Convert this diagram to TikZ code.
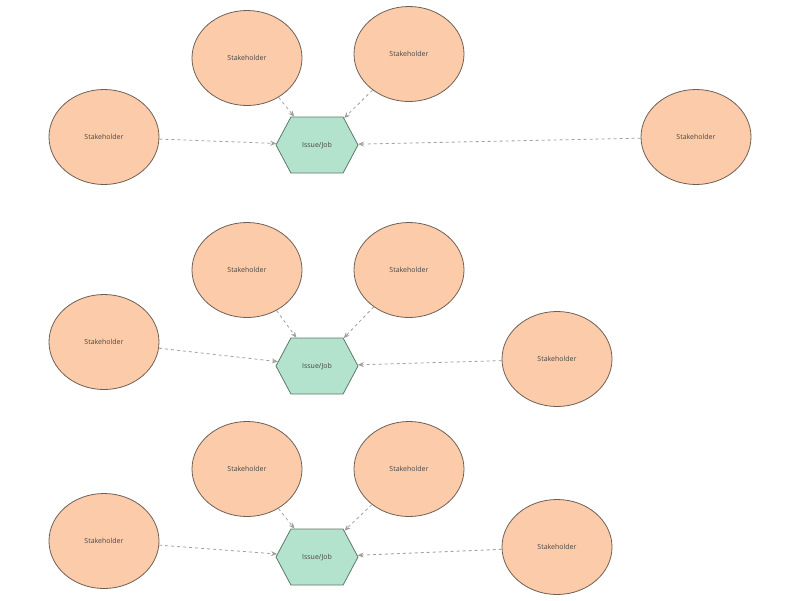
\documentclass[tikz,border=0pt]{standalone}
\usepackage{fontspec}
\setmainfont{Open Sans}
\usetikzlibrary{shapes.geometric,shapes.symbols,arrows.meta}

\definecolor{peach}{RGB}{252,204,170}
\definecolor{peachline}{RGB}{110,95,85}
\definecolor{mint}{RGB}{179,227,204}
\definecolor{mintline}{RGB}{95,120,108}
\definecolor{labelgray}{RGB}{70,70,70}
\definecolor{linkgray}{RGB}{160,160,160}

\begin{document}
\begin{tikzpicture}[x=1pt,y=-1pt,
  stakeholder/.style={draw=peachline, ellipse, fill=peach, line width=0.8pt,
    minimum width=110pt, minimum height=95pt, inner sep=0pt,
    font=\fontsize{7}{8}\selectfont, text=labelgray},
  issue/.style={draw=mintline, signal, signal to=east and west,
    signal pointer angle=124, fill=mint, line width=0.8pt,
    minimum width=82pt, minimum height=56pt, inner sep=0pt,
    font=\fontsize{7}{8}\selectfont, text=labelgray},
  link/.style={draw=linkgray, dashed, line width=0.8pt,
    -{Stealth[length=6pt,width=5pt]}}]
\useasboundingbox (0,0) rectangle (800,600);

% Group 1
\node[issue] (issue1) at (317,145) {Issue/Job};
\node[stakeholder] (topleft1) at (247,58) {Stakeholder};
\node[stakeholder] (topright1) at (409,54) {Stakeholder};
\node[stakeholder] (left1) at (104,137) {Stakeholder};
\node[stakeholder] (right1) at (696,137) {Stakeholder};

% Group 2
\node[issue] (issue2) at (317,366) {Issue/Job};
\node[stakeholder] (topleft2) at (247,270) {Stakeholder};
\node[stakeholder] (topright2) at (409,270) {Stakeholder};
\node[stakeholder] (left2) at (104,342) {Stakeholder};
\node[stakeholder] (right2) at (557,359) {Stakeholder};

% Group 3
\node[issue] (issue3) at (317,557) {Issue/Job};
\node[stakeholder] (topleft3) at (247,469) {Stakeholder};
\node[stakeholder] (topright3) at (409,469) {Stakeholder};
\node[stakeholder] (left3) at (104,541) {Stakeholder};
\node[stakeholder] (right3) at (557,547) {Stakeholder};

% Arrows
\draw[link] (topleft1) -- (issue1);
\draw[link] (topright1) -- (issue1);
\draw[link] (left1) -- (issue1);
\draw[link] (right1) -- (issue1);
\draw[link] (topleft2) -- (issue2);
\draw[link] (topright2) -- (issue2);
\draw[link] (left2) -- (issue2);
\draw[link] (right2) -- (issue2);
\draw[link] (topleft3) -- (issue3);
\draw[link] (topright3) -- (issue3);
\draw[link] (left3) -- (issue3);
\draw[link] (right3) -- (issue3);
\end{tikzpicture}
\end{document}
